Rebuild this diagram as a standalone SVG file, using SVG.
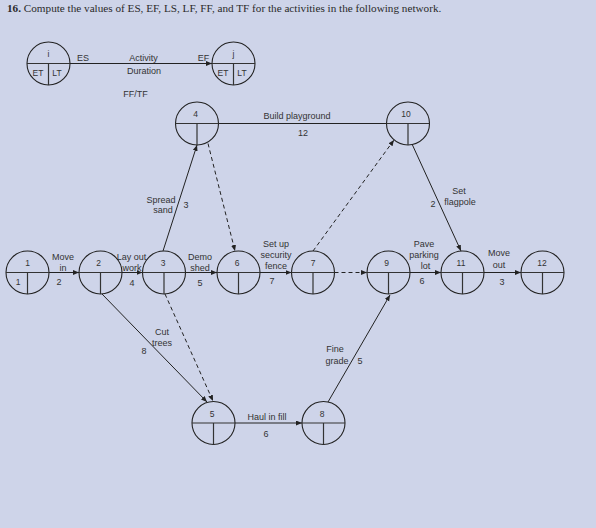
<svg xmlns="http://www.w3.org/2000/svg" width="596" height="528" viewBox="0 0 596 528">
<defs>
<marker id="ah" markerUnits="userSpaceOnUse" markerWidth="7" markerHeight="6" refX="6" refY="2.5" orient="auto">
<path d="M0,0 L6,2.5 L0,5 z" fill="#222"/>
</marker>
<style>
.bg{fill:#ced4e9}
.nd circle{fill:none;stroke:#222;stroke-width:1.1}
.nd line{stroke:#333;stroke-width:1.2}
.nt{font-family:"Liberation Sans",Arial,sans-serif;font-size:8.5px;fill:#333;text-anchor:middle}
.lb{font-family:"Liberation Sans",Arial,sans-serif;font-size:9px;fill:#333;text-anchor:middle}
.e{stroke:#222;stroke-width:1;fill:none}
.d{stroke:#222;stroke-width:1;fill:none;stroke-dasharray:4 3}
.ttl{font-family:"Liberation Serif","Times New Roman",serif;font-size:11.2px;fill:#2a2a2a}
</style>
</defs>
<rect class="bg" x="0" y="0" width="596" height="528"/>
<text class="ttl" x="7" y="12"><tspan font-weight="bold">16.</tspan> Compute the values of ES, EF, LS, LF, FF, and TF for the activities in the following network.</text>

<g id="connectors">
<line class="e" x1="70" y1="63.5" x2="212" y2="63.5" marker-end="url(#ah)"/>
<line class="e" x1="49" y1="272.5" x2="79" y2="272.5" marker-end="url(#ah)"/>
<line class="e" x1="122" y1="272.5" x2="142.5" y2="272.5" marker-end="url(#ah)"/>
<line class="e" x1="185.5" y1="272.5" x2="217" y2="272.5" marker-end="url(#ah)"/>
<line class="e" x1="260" y1="272.5" x2="291.5" y2="272.5" marker-end="url(#ah)"/>
<line class="d" x1="334.5" y1="272.5" x2="367" y2="272.5" marker-end="url(#ah)"/>
<line class="e" x1="410" y1="272.5" x2="441" y2="272.5" marker-end="url(#ah)"/>
<line class="e" x1="484" y1="272.5" x2="521" y2="272.5" marker-end="url(#ah)"/>
<line class="e" x1="218.5" y1="123.5" x2="386.5" y2="123.5"/>
<line class="e" x1="163" y1="251" x2="197" y2="145" marker-end="url(#ah)"/>
<line class="d" x1="208" y1="143.5" x2="235" y2="251" marker-end="url(#ah)"/>
<line class="d" x1="313" y1="251" x2="394" y2="140" marker-end="url(#ah)"/>
<line class="e" x1="412" y1="144" x2="461" y2="251" marker-end="url(#ah)"/>
<line class="e" x1="102" y1="294" x2="207" y2="402" marker-end="url(#ah)"/>
<line class="d" x1="165" y1="294" x2="213" y2="401" marker-end="url(#ah)"/>
<line class="e" x1="235" y1="423" x2="302" y2="423" marker-end="url(#ah)"/>
<line class="e" x1="328" y1="402" x2="390" y2="295" marker-end="url(#ah)"/>
</g>

<g id="labels">
<text class="lb" x="83" y="60.5">ES</text>
<text class="lb" x="143.5" y="60.5">Activity</text>
<text class="lb" x="203.5" y="60.5">EF</text>
<text class="lb" x="144" y="73.5">Duration</text>
<text class="lb" x="135.5" y="96.5">FF/TF</text>

<text class="lb" x="63" y="259.5">Move</text>
<text class="lb" x="63" y="271">in</text>
<text class="lb" x="59" y="285">2</text>
<text class="lb" x="131.5" y="259.5">Lay out</text>
<text class="lb" x="132" y="271">work</text>
<text class="lb" x="132" y="285.5">4</text>
<text class="lb" x="200" y="259.5">Demo</text>
<text class="lb" x="200" y="271">shed</text>
<text class="lb" x="200" y="285.5">5</text>
<text class="lb" x="276" y="246.5">Set up</text>
<text class="lb" x="276" y="257.5">security</text>
<text class="lb" x="276" y="269">fence</text>
<text class="lb" x="272" y="283.5">7</text>
<text class="lb" x="424" y="246.5">Pave</text>
<text class="lb" x="424" y="257.5">parking</text>
<text class="lb" x="425.5" y="268.5">lot</text>
<text class="lb" x="422" y="283.5">6</text>
<text class="lb" x="499" y="255.5">Move</text>
<text class="lb" x="499" y="267.5">out</text>
<text class="lb" x="502" y="284.5">3</text>
<text class="lb" x="297" y="118.5">Build playground</text>
<text class="lb" x="303" y="136">12</text>
<text class="lb" x="161" y="202.5">Spread</text>
<text class="lb" x="163" y="213">sand</text>
<text class="lb" x="186" y="207.5">3</text>
<text class="lb" x="459" y="193.5">Set</text>
<text class="lb" x="460" y="204.5">flagpole</text>
<text class="lb" x="433" y="206.5">2</text>
<text class="lb" x="162" y="334.5">Cut</text>
<text class="lb" x="162" y="345.5">trees</text>
<text class="lb" x="144" y="353.5">8</text>
<text class="lb" x="267" y="419.5">Haul in fill</text>
<text class="lb" x="266" y="436.5">6</text>
<text class="lb" x="335" y="351.5">Fine</text>
<text class="lb" x="337" y="363.5">grade</text>
<text class="lb" x="360" y="363.5">5</text>
</g>

<g id="node-i" class="nd">
<circle cx="48.5" cy="63.5" r="21.5"/>
<line x1="27" y1="63.5" x2="70" y2="63.5"/><line x1="48.5" y1="63.5" x2="48.5" y2="85"/>
<text class="nt" x="48.5" y="57">i</text>
<text class="nt" x="38" y="76">ET</text>
<text class="nt" x="57" y="76">LT</text>
</g>
<g id="node-j" class="nd">
<circle cx="233.5" cy="63.5" r="21.5"/>
<line x1="212" y1="63.5" x2="255" y2="63.5"/><line x1="233.5" y1="63.5" x2="233.5" y2="85"/>
<text class="nt" x="233.5" y="57">j</text>
<text class="nt" x="223" y="76">ET</text>
<text class="nt" x="242" y="76">LT</text>
</g>
<g id="node-1" class="nd">
<circle cx="27.5" cy="272.5" r="21.5"/>
<line x1="6" y1="272.5" x2="49" y2="272.5"/><line x1="27.5" y1="272.5" x2="27.5" y2="294"/>
<text class="nt" x="27.5" y="266">1</text>
<text class="nt" x="18" y="285">1</text>
</g>
<g id="node-2" class="nd">
<circle cx="100.5" cy="272.5" r="21.5"/>
<line x1="79" y1="272.5" x2="122" y2="272.5"/><line x1="100.5" y1="272.5" x2="100.5" y2="294"/>
<text class="nt" x="98.5" y="266">2</text>
</g>
<g id="node-3" class="nd">
<circle cx="164" cy="272.5" r="21.5"/>
<line x1="142.5" y1="272.5" x2="185.5" y2="272.5"/><line x1="164" y1="272.5" x2="164" y2="294"/>
<text class="nt" x="163" y="266">3</text>
</g>
<g id="node-6" class="nd">
<circle cx="238.5" cy="272.5" r="21.5"/>
<line x1="217" y1="272.5" x2="260" y2="272.5"/><line x1="238.5" y1="272.5" x2="238.5" y2="294"/>
<text class="nt" x="237" y="266">6</text>
</g>
<g id="node-7" class="nd">
<circle cx="313" cy="272.5" r="21.5"/>
<line x1="291.5" y1="272.5" x2="334.5" y2="272.5"/><line x1="313" y1="272.5" x2="313" y2="294"/>
<text class="nt" x="313" y="266">7</text>
</g>
<g id="node-9" class="nd">
<circle cx="388.5" cy="272.5" r="21.5"/>
<line x1="367" y1="272.5" x2="410" y2="272.5"/><line x1="388.5" y1="272.5" x2="388.5" y2="294"/>
<text class="nt" x="386.5" y="266">9</text>
</g>
<g id="node-11" class="nd">
<circle cx="462.5" cy="272.5" r="21.5"/>
<line x1="441" y1="272.5" x2="484" y2="272.5"/><line x1="462.5" y1="272.5" x2="462.5" y2="294"/>
<text class="nt" x="461" y="266">11</text>
</g>
<g id="node-12" class="nd">
<circle cx="542.5" cy="272.5" r="21.5"/>
<line x1="521" y1="272.5" x2="564" y2="272.5"/><line x1="542.5" y1="272.5" x2="542.5" y2="294"/>
<text class="nt" x="542" y="266">12</text>
</g>
<g id="node-4" class="nd">
<circle cx="197" cy="123.5" r="21.5"/>
<line x1="175.5" y1="123.5" x2="218.5" y2="123.5"/><line x1="197" y1="123.5" x2="197" y2="145"/>
<text class="nt" x="195.5" y="117">4</text>
</g>
<g id="node-10" class="nd">
<circle cx="408" cy="123.5" r="21.5"/>
<line x1="386.5" y1="123.5" x2="429.5" y2="123.5"/><line x1="408" y1="123.5" x2="408" y2="145"/>
<text class="nt" x="406" y="117">10</text>
</g>
<g id="node-5" class="nd">
<circle cx="213.5" cy="423" r="21.5"/>
<line x1="192" y1="423" x2="235" y2="423"/><line x1="213.5" y1="423" x2="213.5" y2="444.5"/>
<text class="nt" x="212" y="417">5</text>
</g>
<g id="node-8" class="nd">
<circle cx="323.5" cy="423" r="21.5"/>
<line x1="302" y1="423" x2="345" y2="423"/><line x1="323.5" y1="423" x2="323.5" y2="444.5"/>
<text class="nt" x="322" y="417">8</text>
</g>
</svg>
